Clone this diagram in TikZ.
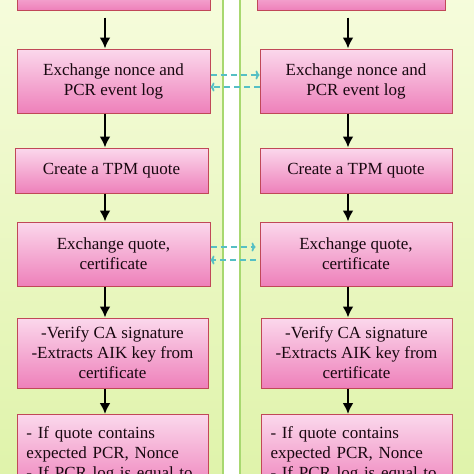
\documentclass[tikz,border=0pt]{standalone}
\usepackage{fontspec}
\setmainfont{Liberation Serif}
\usetikzlibrary{arrows.meta}
\definecolor{paneltop}{HTML}{F6FCDC}
\definecolor{panelbot}{HTML}{DFF3AA}
\definecolor{panelline}{HTML}{A8D870}
\definecolor{boxtop}{HTML}{FBD8EC}
\definecolor{boxbot}{HTML}{EE80BA}
\definecolor{boxline}{HTML}{C04858}
\definecolor{txt}{HTML}{180810}
\definecolor{cyanarr}{HTML}{55C0C4}
\tikzset{
  panel/.style={top color=paneltop, bottom color=panelbot, draw=panelline, line width=1.5pt},
  stepbox/.style={draw=boxline, line width=1pt, top color=boxtop, bottom color=boxbot,
    inner sep=0pt, align=center, text=txt, font=\fontsize{17}{20}\selectfont},
  listbox/.style={draw=boxline, line width=1pt, top color=boxtop, bottom color=boxbot,
    inner xsep=9pt, inner ysep=12pt, text width=173pt, align=left, text=txt,
    font=\fontsize{17}{20}\selectfont},
  flow/.style={line width=2.4pt, black, -{Latex[length=11pt,width=11pt]}},
  xchg/.style={line width=1.8pt, cyanarr, dash pattern=on 6pt off 4pt, -{To[length=4pt,width=9pt]}}
}
\begin{document}
\begin{tikzpicture}[x=1pt,y=-1pt]
\useasboundingbox (0,0) rectangle (474,474);
\begin{scope}
\clip (0,0) rectangle (474,474);
% panels
\node[panel, minimum width=230pt, minimum height=490pt, inner sep=0pt] (PL) at (108,237) {};
\node[panel, minimum width=240pt, minimum height=490pt, inner sep=0pt] (PR) at (360,237) {};
% left column
\node[stepbox, minimum width=193pt, minimum height=30pt] (L0) at (113.5,-5) {};
\node[stepbox, minimum width=193pt, minimum height=64pt] (L1) at (113.5,81) {Exchange nonce and\\PCR event log};
\node[stepbox, minimum width=193pt, minimum height=45pt] (L2) at (111.5,170.5) {Create a TPM quote};
\node[stepbox, minimum width=193pt, minimum height=64pt] (L3) at (113.5,254) {Exchange quote,\\certificate};
\node[stepbox, minimum width=191pt, minimum height=70pt] (L4) at (112.5,353) {-Verify CA signature\\-Extracts AIK key from\\certificate};
\node[listbox, anchor=north west] (L5) at (17,414) {- If quote contains\\expected PCR, Nonce\\- If PCR log is equal to};
% right column
\node[stepbox, minimum width=188pt, minimum height=30pt] (R0) at (351,-5) {};
\node[stepbox, minimum width=192pt, minimum height=64pt] (R1) at (356,81) {Exchange nonce and\\PCR event log};
\node[stepbox, minimum width=192pt, minimum height=45pt] (R2) at (356,170.5) {Create a TPM quote};
\node[stepbox, minimum width=192pt, minimum height=64pt] (R3) at (356,254) {Exchange quote,\\certificate};
\node[stepbox, minimum width=191pt, minimum height=70pt] (R4) at (356.5,353) {-Verify CA signature\\-Extracts AIK key from\\certificate};
\node[listbox, anchor=north west] (R5) at (261,414) {- If quote contains\\expected PCR, Nonce\\- If PCR log is equal to};
% arrow columns
\coordinate (axL) at (105,0);
\coordinate (axR) at (348,0);
\draw[flow, shorten <=7pt] (L0.south -| axL) -- (L1.north -| axL);
\draw[flow] (L1.south -| axL) -- (L2.north -| axL);
\draw[flow] (L2.south -| axL) -- (L3.north -| axL);
\draw[flow] (L3.south -| axL) -- (L4.north -| axL);
\draw[flow] (L4.south -| axL) -- (L5.north -| axL);
\draw[flow, shorten <=7pt] (R0.south -| axR) -- (R1.north -| axR);
\draw[flow] (R1.south -| axR) -- (R2.north -| axR);
\draw[flow] (R2.south -| axR) -- (R3.north -| axR);
\draw[flow] (R3.south -| axR) -- (R4.north -| axR);
\draw[flow] (R4.south -| axR) -- (R5.north -| axR);
% exchanges
\coordinate (e1) at (0,75);
\coordinate (e2) at (0,87);
\coordinate (e3) at (0,247);
\coordinate (e4) at (0,260);
\draw[xchg] (L1.east |- e1) -- (R1.west |- e1);
\draw[xchg] (R1.west |- e2) -- (L1.east |- e2);
\draw[xchg, shorten >=4pt] (L3.east |- e3) -- (R3.west |- e3);
\draw[xchg, shorten <=4pt] (R3.west |- e4) -- (L3.east |- e4);
\end{scope}
\end{tikzpicture}
\end{document}
